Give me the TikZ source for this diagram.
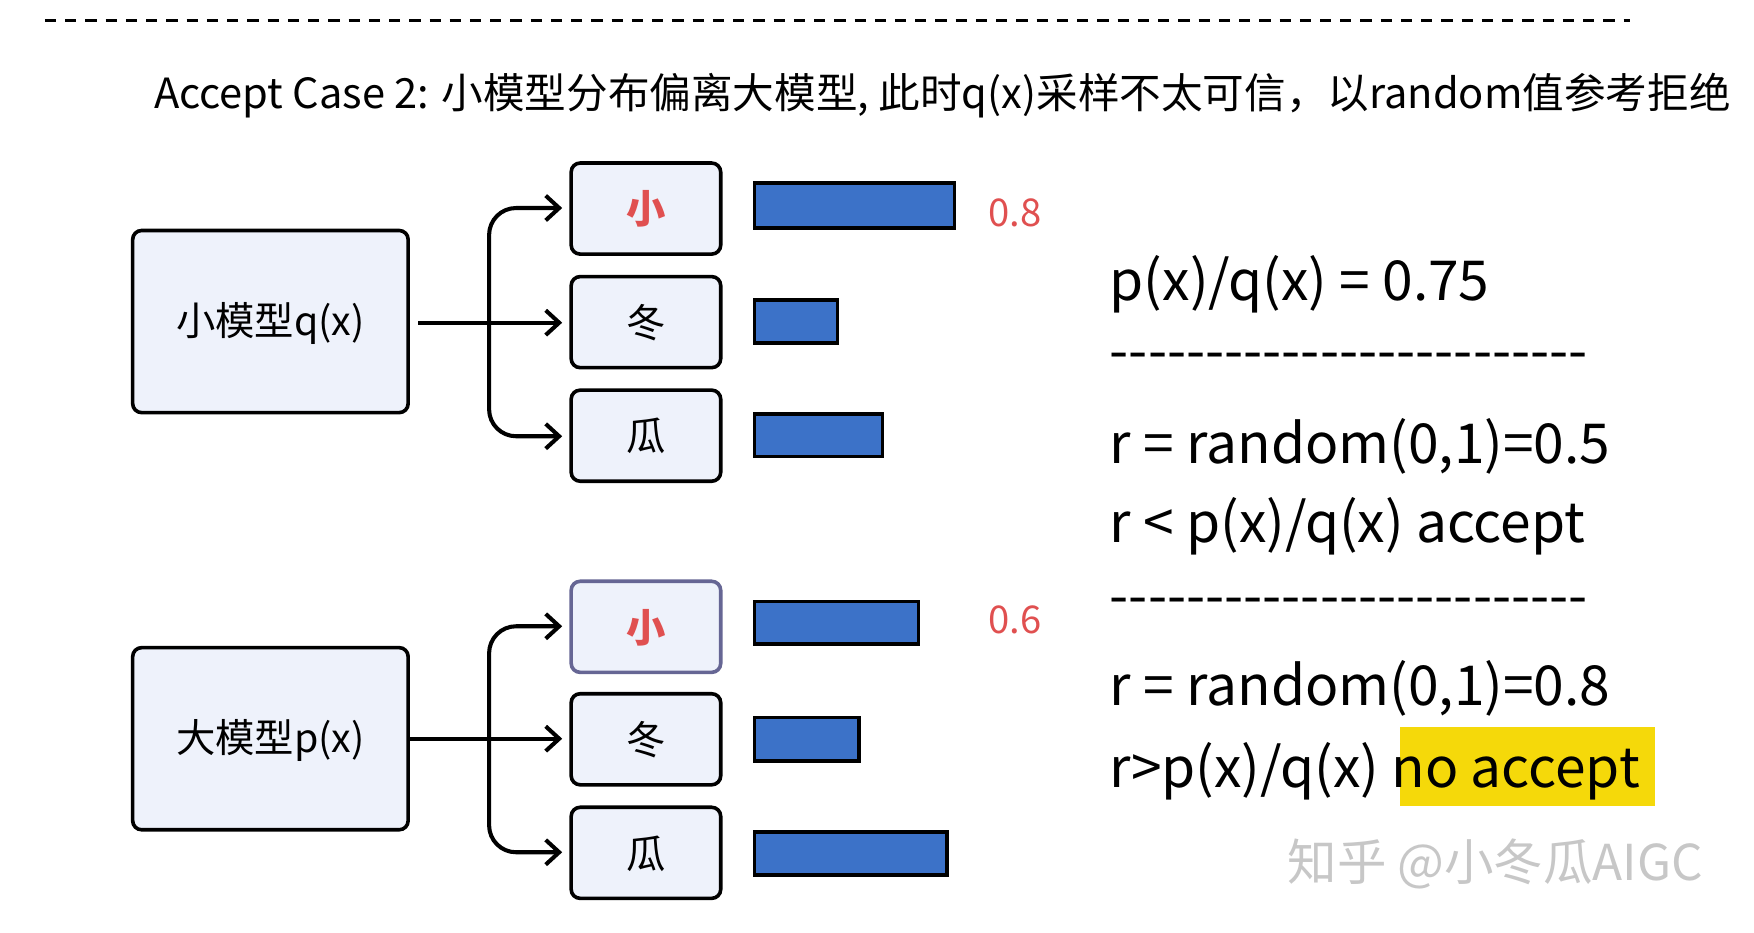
\documentclass[tikz,border=0pt]{standalone}
\usepackage{fontspec}
\setmainfont{Noto Sans CJK SC}
\newfontfamily\plainf{Noto Sans CJK SC}
\usetikzlibrary{arrows.meta}
\definecolor{boxfill}{HTML}{EEF2FB}
\definecolor{barblue}{HTML}{3C72C8}
\definecolor{redt}{HTML}{E05050}
\definecolor{hl}{HTML}{F5D90A}
\begin{document}
\begin{tikzpicture}[x=0.5pt,y=-0.5pt,
  box/.style={draw=black,line width=1.6pt,fill=boxfill,rounded corners=4pt},
  bar/.style={draw=black,line width=1.6pt,fill=barblue},
  arr/.style={line width=1.8pt,-{Straight Barb[length=6pt,width=11pt]},rounded corners=12pt},
  lab/.style={font=\fontsize{17.5}{20}\selectfont},
  rt/.style={anchor=west,font=\fontsize{24.5}{28}\selectfont},
  num/.style={text=redt,font=\fontsize{17}{20}\selectfont}]
\useasboundingbox (0,0) rectangle (1560,829);
\draw[line width=1.2pt,dash pattern=on 5pt off 4pt] (40,18) -- (1450,18);
\node[anchor=west,font=\fontsize{18.5}{22}\selectfont] (title) at (130,85) {Accept Case 2: 小模型分布偏离大模型, 此时q(x)采样不太可信，以random值参考拒绝};
% upper
\path[box] (118,205) rectangle (363,367); \node[lab] (q) at (240.5,288) {小模型q(x)};
\path[box] (508,145) rectangle (641,226); \node[text=redt,font=\bfseries\fontsize{17.5}{20}\selectfont] (u1) at (574.5,186) {小};
\path[box] (508,246) rectangle (641,327); \node[lab] (u2) at (574.5,287) {冬};
\path[box] (508,347) rectangle (641,428); \node[lab] (u3) at (574.5,388) {瓜};
\coordinate (qo) at (372,287); \coordinate (qb) at (435,287);
\draw[line width=1.8pt] (qo) -- (qb);
\draw[arr] (qb) -- (435,185) -- (500,185);
\draw[arr] (qb) -- (500,287);
\draw[arr] (qb) -- (435,388) -- (500,388);
\path[bar] (671,163) rectangle (849,203);
\path[bar] (671,267) rectangle (745,305);
\path[bar] (671,368) rectangle (785,406);
\node[num] (n1) at (903,189) {0.8};
% lower
\path[box] (118,576) rectangle (363,738); \node[lab] (p) at (240.5,659) {大模型p(x)};
\path[box,draw=black!70!blue!60] (508,517) rectangle (641,598); \node[text=redt,font=\bfseries\fontsize{17.5}{20}\selectfont] (l1) at (574.5,558) {小};
\path[box] (508,617) rectangle (641,698); \node[lab] (l2) at (574.5,658) {冬};
\path[box] (508,718) rectangle (641,799); \node[lab] (l3) at (574.5,759) {瓜};
\coordinate (po) at (365,657); \coordinate (pb) at (435,657);
\draw[line width=1.8pt] (po) -- (pb);
\draw[arr] (pb) -- (435,557) -- (500,557);
\draw[arr] (pb) -- (500,657);
\draw[arr] (pb) -- (435,758) -- (500,758);
\path[bar] (671,535) rectangle (817,573);
\path[bar] (671,638) rectangle (764,677);
\path[bar] (671,740) rectangle (842,778);
\node[num] (n2) at (903,551) {0.6};
% right text
\fill[hl] (1245,647) rectangle (1472,717);
\node[rt] (t1) at (980,253) {p(x)/q(x) = 0.75};
\node[rt,font=\plainf\fontsize{24.5}{28}\selectfont] (d1) at (980,322) {-------------------------};
\node[rt] (t2) at (980,397) {r = random(0,1)=0.5};
\node[rt] (t3) at (980,468) {r < p(x)/q(x) accept};
\node[rt,font=\plainf\fontsize{24.5}{28}\selectfont] (d2) at (980,540) {-------------------------};
\node[rt] (t4) at (980,612) {r = random(0,1)=0.8};
\node[rt] (t5) at (980,686) {r>p(x)/q(x) no accept};
\node[text=black!22,font=\fontsize{22}{26}\selectfont] (wm) at (1330,768) {知乎 @小冬瓜AIGC};
\end{tikzpicture}
\end{document}
